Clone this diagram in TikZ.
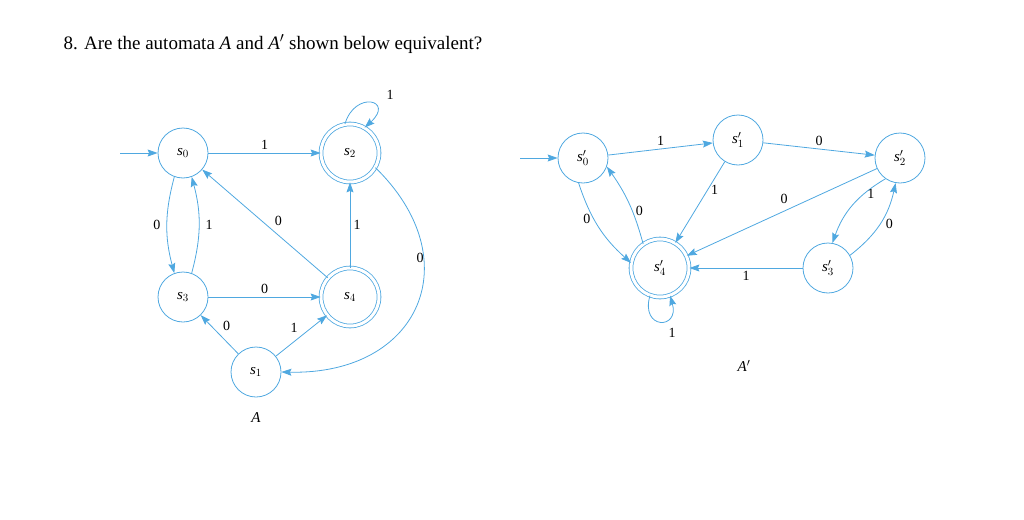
\documentclass[tikz,border=0pt]{standalone}
\usepackage{fontspec}
\setmainfont{Liberation Serif}
\usetikzlibrary{arrows.meta}
\definecolor{ab}{HTML}{4FA8E0}
\begin{document}
\begin{tikzpicture}[x=1pt,y=-1pt,
  st/.style={circle,draw=ab,line width=0.8pt,minimum size=50pt,inner sep=0pt,font=\fontsize{15}{15}\selectfont\itshape},
  acc/.style={st,double=white,double distance=3pt,minimum size=58pt},
  e/.style={draw=ab,line width=0.8pt,-{Stealth[length=10pt,width=7pt,inset=1.5pt]}},
  lb/.style={font=\fontsize{14}{14}\selectfont}]
\useasboundingbox (0,0) rectangle (1024,519);
\node[anchor=west,font=\fontsize{19}{22}\selectfont] (title) at (60,44) {8. Are the automata \textit{A} and \textit{A}$'$ shown below equivalent?};
% left
\node[st] (a0) at (183,153) {s$_0$};
\node[acc] (a2) at (350,153) {s$_2$};
\node[st] (a3) at (183,297) {s$_3$};
\node[acc] (a4) at (350,297) {s$_4$};
\node[st] (a1) at (256,372) {s$_1$};
\coordinate (sa) at (120,153);
\draw[e] (sa) -- (a0);
\draw[e] (a0) -- node[lb,above]{1} (a2);
\draw[e] (a2.100) .. controls (355,90) and (395,100) .. (a2.60);
\node[lb] (l1) at (390,95) {1};
\draw[e] (a0.250) to[bend right=15] node[lb,left=3pt]{0} (a3.110);
\draw[e] (a3.70) to[bend right=15] node[lb,right=3pt]{1} (a0.290);
\draw[e] (a4) -- node[lb,above right,pos=0.45]{0} (a0);
\draw[e] (a4) -- node[lb,right]{1} (a2);
\draw[e] (a2.-30) .. controls (470,260) and (420,375) .. (a1.east);
\node[lb] (l0) at (420,258) {0};
\draw[e] (a3) -- node[lb,above]{0} (a4);
\draw[e] (a1) -- node[lb,above right,pos=0.5]{0} (a3);
\draw[e] (a1) -- node[lb,above left,pos=0.5]{1} (a4);
\node[font=\fontsize{15}{15}\selectfont\itshape] (A) at (256,418) {A};
% right
\node[st] (b0) at (583,158) {s$_0'$};
\node[st] (b1) at (738,140) {s$_1'$};
\node[st] (b2) at (900,158) {s$_2'$};
\node[acc] (b4) at (660,268) {s$_4'$};
\node[st] (b3) at (828,268) {s$_3'$};
\coordinate (sb) at (520,158);
\draw[e] (sb) -- (b0);
\draw[e] (b0) -- node[lb,above]{1} (b1);
\draw[e] (b1) -- node[lb,above]{0} (b2);
\draw[e] (b1) -- node[lb,right,pos=0.35]{1} (b4);
\draw[e] (b2) -- node[lb,above left,pos=0.45]{0} (b4);
\draw[e] (b2.235) to[bend right=20] node[lb,right,pos=0.3]{1} (b3.80);
\draw[e] (b3.30) to[bend right=20] node[lb,right=2pt]{0} (b2.260);
\draw[e] (b3) -- node[lb,below]{1} (b4);
\draw[e] (b0.260) to[bend right=15] node[lb,left,pos=0.4]{0} (b4.170);
\draw[e] (b4.125) to[bend right=10] node[lb,right,pos=0.4]{0} (b0.-20);
\draw[e] (b4.250) .. controls (640,330) and (680,330) .. (b4.290);
\node[lb] (l4) at (672,333) {1};
\node[font=\fontsize{15}{15}\selectfont] (Ap) at (744,366) {\textit{A}$'$};
\end{tikzpicture}
\end{document}
